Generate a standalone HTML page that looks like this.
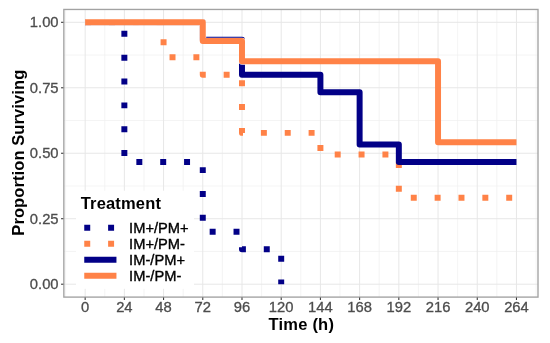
<!DOCTYPE html>
<html><head><meta charset="utf-8"><title>Kaplan-Meier survival by treatment</title><style>html,body{margin:0;padding:0;background:#fff;overflow:hidden;}svg{display:block;}text{font-family:"Liberation Sans",Arial,Helvetica,sans-serif;}</style></head><body>
<svg width="550" height="343" viewBox="0 0 550 343">
<rect width="550" height="343" fill="#fff"/>
<g stroke="#EFEFEF" stroke-width="0.7" fill="none">
<line x1="65.55" y1="9.45" x2="65.55" y2="297.1"/>
<line x1="104.76" y1="9.45" x2="104.76" y2="297.1"/>
<line x1="143.97" y1="9.45" x2="143.97" y2="297.1"/>
<line x1="183.18" y1="9.45" x2="183.18" y2="297.1"/>
<line x1="222.39" y1="9.45" x2="222.39" y2="297.1"/>
<line x1="261.60" y1="9.45" x2="261.60" y2="297.1"/>
<line x1="300.81" y1="9.45" x2="300.81" y2="297.1"/>
<line x1="340.01" y1="9.45" x2="340.01" y2="297.1"/>
<line x1="379.23" y1="9.45" x2="379.23" y2="297.1"/>
<line x1="418.44" y1="9.45" x2="418.44" y2="297.1"/>
<line x1="457.64" y1="9.45" x2="457.64" y2="297.1"/>
<line x1="496.86" y1="9.45" x2="496.86" y2="297.1"/>
<line x1="536.07" y1="9.45" x2="536.07" y2="297.1"/>
<line x1="63.85" y1="251.46" x2="538.0" y2="251.46"/>
<line x1="63.85" y1="185.99" x2="538.0" y2="185.99"/>
<line x1="63.85" y1="120.51" x2="538.0" y2="120.51"/>
<line x1="63.85" y1="55.04" x2="538.0" y2="55.04"/>
</g>
<g stroke="#E7E7E7" stroke-width="1.0" fill="none">
<line x1="85.15" y1="9.45" x2="85.15" y2="297.1"/>
<line x1="124.36" y1="9.45" x2="124.36" y2="297.1"/>
<line x1="163.57" y1="9.45" x2="163.57" y2="297.1"/>
<line x1="202.78" y1="9.45" x2="202.78" y2="297.1"/>
<line x1="241.99" y1="9.45" x2="241.99" y2="297.1"/>
<line x1="281.20" y1="9.45" x2="281.20" y2="297.1"/>
<line x1="320.41" y1="9.45" x2="320.41" y2="297.1"/>
<line x1="359.62" y1="9.45" x2="359.62" y2="297.1"/>
<line x1="398.83" y1="9.45" x2="398.83" y2="297.1"/>
<line x1="438.04" y1="9.45" x2="438.04" y2="297.1"/>
<line x1="477.25" y1="9.45" x2="477.25" y2="297.1"/>
<line x1="516.46" y1="9.45" x2="516.46" y2="297.1"/>
<line x1="63.85" y1="284.20" x2="538.0" y2="284.20"/>
<line x1="63.85" y1="218.72" x2="538.0" y2="218.72"/>
<line x1="63.85" y1="153.25" x2="538.0" y2="153.25"/>
<line x1="63.85" y1="87.78" x2="538.0" y2="87.78"/>
<line x1="63.85" y1="22.30" x2="538.0" y2="22.30"/>
</g>
<defs><mask id="under" maskUnits="userSpaceOnUse" x="0" y="0" width="550" height="343"><rect width="550" height="343" fill="#fff"/><polyline points="85.15,22.30 202.78,22.30 202.78,41.01 241.99,41.01 241.99,61.27 438.04,61.27 438.04,142.34 516.46,142.34" fill="none" stroke="#000" stroke-width="6.77" stroke-linejoin="round"/></mask></defs>
<g mask="url(#under)">
<polyline points="85.15,22.30 124.36,22.30 124.36,161.98 202.78,161.98 202.78,231.82 241.99,231.82 241.99,249.28 281.20,249.28 281.20,284.20" fill="none" stroke="#020087" stroke-width="5.97" stroke-linejoin="round" stroke-dasharray="5.97 17.89"/>
<polyline points="85.15,22.30 163.57,22.30 163.57,57.22 202.78,57.22 202.78,74.68 241.99,74.68 241.99,132.88 320.41,132.88 320.41,154.50 398.83,154.50 398.83,197.73 516.46,197.73" fill="none" stroke="#FF8247" stroke-width="5.97" stroke-linejoin="round" stroke-dasharray="5.97 17.89"/>
<polyline points="85.15,22.30 202.78,22.30 202.78,39.76 241.99,39.76 241.99,74.68 320.41,74.68 320.41,92.14 359.62,92.14 359.62,144.52 398.83,144.52 398.83,161.98 516.46,161.98" fill="none" stroke="#020087" stroke-width="5.97" stroke-linejoin="round"/>
</g>
<polyline points="85.15,22.30 202.78,22.30 202.78,41.01 241.99,41.01 241.99,61.27 438.04,61.27 438.04,142.34 516.46,142.34" fill="none" stroke="#FF8247" stroke-width="5.97" stroke-linejoin="round"/>
<rect x="76" y="190.7" width="118" height="98.1" fill="#fff"/>
<line x1="84.25" y1="227.65" x2="116.45" y2="227.65" stroke="#020087" stroke-width="5.97" stroke-dasharray="5.97 17.89"/>
<line x1="84.25" y1="243.68" x2="116.45" y2="243.68" stroke="#FF8247" stroke-width="5.97" stroke-dasharray="5.97 17.89"/>
<line x1="84.25" y1="259.71" x2="116.45" y2="259.71" stroke="#020087" stroke-width="5.97"/>
<line x1="84.25" y1="275.74" x2="116.45" y2="275.74" stroke="#FF8247" stroke-width="5.97"/>
<rect x="63.85" y="9.45" width="474.15" height="287.65" fill="none" stroke="#A2A2A2" stroke-width="1.35"/>
<g stroke="#333" stroke-width="1.05">
<line x1="61.05" y1="284.20" x2="63.35" y2="284.20"/>
<line x1="61.05" y1="218.72" x2="63.35" y2="218.72"/>
<line x1="61.05" y1="153.25" x2="63.35" y2="153.25"/>
<line x1="61.05" y1="87.78" x2="63.35" y2="87.78"/>
<line x1="61.05" y1="22.30" x2="63.35" y2="22.30"/>
<line x1="85.15" y1="297.60" x2="85.15" y2="299.90"/>
<line x1="124.36" y1="297.60" x2="124.36" y2="299.90"/>
<line x1="163.57" y1="297.60" x2="163.57" y2="299.90"/>
<line x1="202.78" y1="297.60" x2="202.78" y2="299.90"/>
<line x1="241.99" y1="297.60" x2="241.99" y2="299.90"/>
<line x1="281.20" y1="297.60" x2="281.20" y2="299.90"/>
<line x1="320.41" y1="297.60" x2="320.41" y2="299.90"/>
<line x1="359.62" y1="297.60" x2="359.62" y2="299.90"/>
<line x1="398.83" y1="297.60" x2="398.83" y2="299.90"/>
<line x1="438.04" y1="297.60" x2="438.04" y2="299.90"/>
<line x1="477.25" y1="297.60" x2="477.25" y2="299.90"/>
<line x1="516.46" y1="297.60" x2="516.46" y2="299.90"/>
</g>
<text transform="translate(58.60,289.25) scale(1,1.04)" font-size="14.8" text-anchor="end" fill="#4D4D4D" stroke="#4D4D4D" stroke-width="0.3">0.00</text>
<text transform="translate(58.60,223.78) scale(1,1.04)" font-size="14.8" text-anchor="end" fill="#4D4D4D" stroke="#4D4D4D" stroke-width="0.3">0.25</text>
<text transform="translate(58.60,158.30) scale(1,1.04)" font-size="14.8" text-anchor="end" fill="#4D4D4D" stroke="#4D4D4D" stroke-width="0.3">0.50</text>
<text transform="translate(58.60,92.83) scale(1,1.04)" font-size="14.8" text-anchor="end" fill="#4D4D4D" stroke="#4D4D4D" stroke-width="0.3">0.75</text>
<text transform="translate(58.60,27.35) scale(1,1.04)" font-size="14.8" text-anchor="end" fill="#4D4D4D" stroke="#4D4D4D" stroke-width="0.3">1.00</text>
<text transform="translate(85.15,312.30) scale(1,1.04)" font-size="14.8" text-anchor="middle" fill="#4D4D4D" stroke="#4D4D4D" stroke-width="0.3">0</text>
<text transform="translate(124.36,312.30) scale(1,1.04)" font-size="14.8" text-anchor="middle" fill="#4D4D4D" stroke="#4D4D4D" stroke-width="0.3">24</text>
<text transform="translate(163.57,312.30) scale(1,1.04)" font-size="14.8" text-anchor="middle" fill="#4D4D4D" stroke="#4D4D4D" stroke-width="0.3">48</text>
<text transform="translate(202.78,312.30) scale(1,1.04)" font-size="14.8" text-anchor="middle" fill="#4D4D4D" stroke="#4D4D4D" stroke-width="0.3">72</text>
<text transform="translate(241.99,312.30) scale(1,1.04)" font-size="14.8" text-anchor="middle" fill="#4D4D4D" stroke="#4D4D4D" stroke-width="0.3">96</text>
<text transform="translate(281.20,312.30) scale(1,1.04)" font-size="14.8" text-anchor="middle" fill="#4D4D4D" stroke="#4D4D4D" stroke-width="0.3">120</text>
<text transform="translate(320.41,312.30) scale(1,1.04)" font-size="14.8" text-anchor="middle" fill="#4D4D4D" stroke="#4D4D4D" stroke-width="0.3">144</text>
<text transform="translate(359.62,312.30) scale(1,1.04)" font-size="14.8" text-anchor="middle" fill="#4D4D4D" stroke="#4D4D4D" stroke-width="0.3">168</text>
<text transform="translate(398.83,312.30) scale(1,1.04)" font-size="14.8" text-anchor="middle" fill="#4D4D4D" stroke="#4D4D4D" stroke-width="0.3">192</text>
<text transform="translate(438.04,312.30) scale(1,1.04)" font-size="14.8" text-anchor="middle" fill="#4D4D4D" stroke="#4D4D4D" stroke-width="0.3">216</text>
<text transform="translate(477.25,312.30) scale(1,1.04)" font-size="14.8" text-anchor="middle" fill="#4D4D4D" stroke="#4D4D4D" stroke-width="0.3">240</text>
<text transform="translate(516.46,312.30) scale(1,1.04)" font-size="14.8" text-anchor="middle" fill="#4D4D4D" stroke="#4D4D4D" stroke-width="0.3">264</text>
<text transform="translate(301.30,330.40) scale(1,1.04)" font-size="16.5" font-weight="bold" text-anchor="middle" letter-spacing="0.22" fill="#000">Time (h)</text>
<text transform="translate(23.60,152.70) rotate(-90) scale(1,1.04)" font-size="16.5" font-weight="bold" text-anchor="middle" letter-spacing="0.1" fill="#000">Proportion Surviving</text>
<text transform="translate(80.70,209.05) scale(1,1.04)" font-size="16.5" font-weight="bold" letter-spacing="0.18" fill="#000">Treatment</text>
<text transform="translate(129.10,232.91) scale(1,1.04)" font-size="14.7" fill="#000" stroke="#000" stroke-width="0.35">IM+/PM+</text>
<text transform="translate(129.10,248.94) scale(1,1.04)" font-size="14.7" fill="#000" stroke="#000" stroke-width="0.35">IM+/PM-</text>
<text transform="translate(129.10,264.97) scale(1,1.04)" font-size="14.7" fill="#000" stroke="#000" stroke-width="0.35">IM-/PM+</text>
<text transform="translate(129.10,281.00) scale(1,1.04)" font-size="14.7" fill="#000" stroke="#000" stroke-width="0.35">IM-/PM-</text>
</svg></body></html>
